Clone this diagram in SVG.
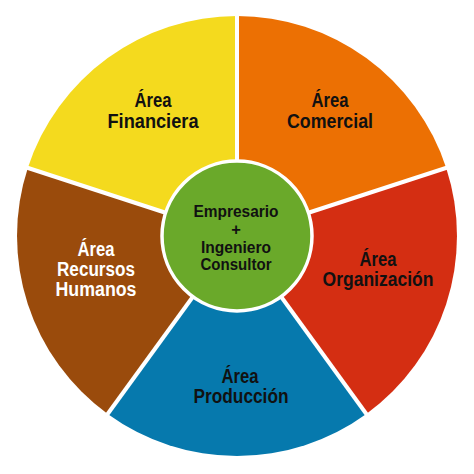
<svg xmlns="http://www.w3.org/2000/svg" width="474" height="474" viewBox="0 0 474 474">
<style>
.lbl{font-family:"Liberation Sans",Arial,sans-serif;font-weight:bold;font-size:20px;text-anchor:middle;fill:#111}
.ctr{font-family:"Liberation Sans",Arial,sans-serif;font-weight:bold;font-size:16.5px;text-anchor:middle;fill:#111}
.div{stroke:#fff;stroke-width:4;fill:none}
</style>
<rect width="474" height="474" fill="#fff"/>
<g id="area-comercial">
<path d="M237,236 L237,16 A220,220 0 0,1 446.2,168 Z" fill="#EC7003"/>
<text class="lbl" x="330" y="107" textLength="37" lengthAdjust="spacingAndGlyphs">Área</text>
<text class="lbl" x="330" y="128" textLength="86" lengthAdjust="spacingAndGlyphs">Comercial</text>
</g>
<g id="area-organizacion">
<path d="M237,236 L446.2,168 A220,220 0 0,1 366.3,414 Z" fill="#D42E12"/>
<text class="lbl" x="378" y="266" textLength="37" lengthAdjust="spacingAndGlyphs">Área</text>
<text class="lbl" x="378" y="286" textLength="111" lengthAdjust="spacingAndGlyphs">Organización</text>
</g>
<g id="area-produccion">
<path d="M237,236 L366.3,414 A220,220 0 0,1 107.7,414 Z" fill="#0679AD"/>
<text class="lbl" x="240" y="383" textLength="37" lengthAdjust="spacingAndGlyphs">Área</text>
<text class="lbl" x="241" y="403" textLength="95" lengthAdjust="spacingAndGlyphs">Producción</text>
</g>
<g id="area-recursos-humanos">
<path d="M237,236 L107.7,414 A220,220 0 0,1 27.8,168 Z" fill="#9A4B0C"/>
<text class="lbl" x="96" y="256" textLength="37" lengthAdjust="spacingAndGlyphs" style="fill:#fff">Área</text>
<text class="lbl" x="96" y="276" textLength="78" lengthAdjust="spacingAndGlyphs" style="fill:#fff">Recursos</text>
<text class="lbl" x="96" y="296" textLength="81" lengthAdjust="spacingAndGlyphs" style="fill:#fff">Humanos</text>
</g>
<g id="area-financiera">
<path d="M237,236 L27.8,168 A220,220 0 0,1 237,16 Z" fill="#F4DA1E"/>
<text class="lbl" x="153" y="107" textLength="37" lengthAdjust="spacingAndGlyphs">Área</text>
<text class="lbl" x="153" y="128" textLength="91" lengthAdjust="spacingAndGlyphs">Financiera</text>
</g>
<g id="connectors">
<line class="div" x1="237" y1="236" x2="237" y2="10"/>
<line class="div" x1="237" y1="236" x2="452" y2="166"/>
<line class="div" x1="237" y1="236" x2="370" y2="419"/>
<line class="div" x1="237" y1="236" x2="104" y2="419"/>
<line class="div" x1="237" y1="236" x2="22" y2="166"/>
</g>
<g id="centro">
<circle cx="237" cy="236" r="75" fill="#6AA92A" stroke="#fff" stroke-width="3.5"/>
<text class="ctr" x="236" y="217" textLength="85" lengthAdjust="spacingAndGlyphs">Empresario</text>
<text class="ctr" x="236" y="235">+</text>
<text class="ctr" x="236" y="253" textLength="70" lengthAdjust="spacingAndGlyphs">Ingeniero</text>
<text class="ctr" x="236" y="270" textLength="71" lengthAdjust="spacingAndGlyphs">Consultor</text>
</g>
</svg>
